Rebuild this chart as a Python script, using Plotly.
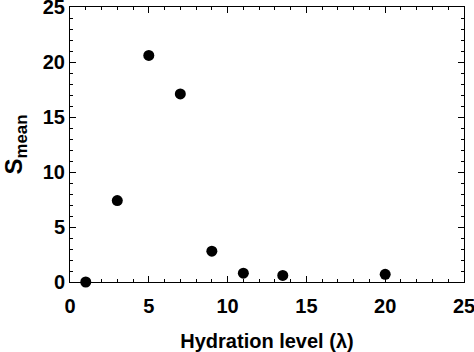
import plotly.graph_objects as go

hydration = [1, 3, 5, 7, 9, 11, 13.5, 20]
s_mean = [0.0, 7.4, 20.6, 17.1, 2.8, 0.8, 0.6, 0.7]

x_ticks = [0, 5, 10, 15, 20, 25]
y_ticks = [0, 5, 10, 15, 20, 25]

fig = go.Figure()
fig.add_trace(go.Scatter(
    x=hydration, y=s_mean, mode="markers",
    marker=dict(color="black", size=11, line=dict(width=0)),
    cliponaxis=False,
))

axis_common = dict(
    showline=True, linecolor="black", linewidth=1, mirror="allticks",
    ticks="inside", ticklen=6, tickwidth=1, tickcolor="black",
    showgrid=False, zeroline=False, automargin=False,
    ticklabeloverflow="allow",
    tickfont=dict(family="Liberation Sans, Arial", size=20, color="black", weight=700),
    minor=dict(ticks="inside", ticklen=3, tickwidth=1, tickcolor="black", dtick=1, showgrid=False),
)

fig.update_xaxes(
    range=[0, 25], tickvals=x_ticks, ticktext=[str(v) for v in x_ticks],
    ticklabelstandoff=6,
    title=dict(text="Hydration level (λ)", standoff=18,
               font=dict(family="Liberation Sans, Arial", size=20, color="black", weight=700)),
    **axis_common,
)
fig.update_yaxes(
    range=[0, 25], tickvals=y_ticks, ticktext=[str(v) for v in y_ticks],
    title=dict(text="S<sub>mean</sub>", standoff=14,
               font=dict(family="Liberation Sans, Arial", size=24, color="black", weight=700)),
    **axis_common,
)

fig.update_layout(
    width=474, height=352,
    margin=dict(l=70, r=10, t=7, b=70),
    paper_bgcolor="white", plot_bgcolor="white",
    showlegend=False,
)

fig.write_html("out.html")
